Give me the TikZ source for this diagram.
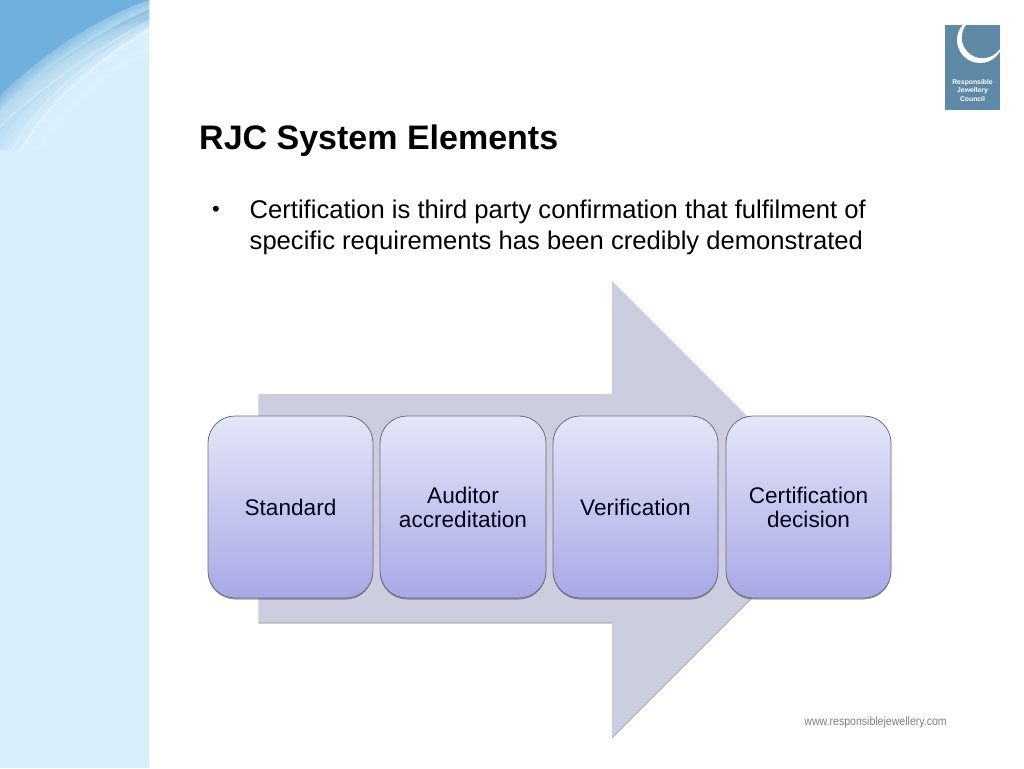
\documentclass[tikz,border=0pt]{standalone}
\usepackage{fontspec}
\setmainfont{Liberation Sans}
\usetikzlibrary{shadows,calc}
\definecolor{panel}{HTML}{D8F0FD}
\definecolor{skyblue}{HTML}{6FB0DC}
\definecolor{arrowfill}{HTML}{CDCDE0}
\definecolor{boxtop}{HTML}{E4E6F8}
\definecolor{boxbot}{HTML}{A8A8E6}
\definecolor{boxline}{HTML}{6E6E80}
\definecolor{logoblue}{HTML}{5F8AA6}
\tikzset{
  stagebox/.style={draw=boxline,line width=.8pt,rounded corners=27pt,top color=boxtop,bottom color=boxbot,
    minimum height=182pt,align=center,inner sep=0pt,text=black!90!blue,
    font=\fontsize{22.6}{24}\selectfont,
    drop shadow={shadow xshift=0pt,shadow yshift=-1.5pt,opacity=.35,fill=black}},
  titletext/.style={anchor=west,inner sep=0pt,font=\fontsize{34}{38}\selectfont\bfseries},
  bodytext/.style={anchor=north west,inner sep=0pt,align=left,font=\fontsize{25.6}{31}\selectfont},
  logotext/.style={inner sep=0pt,text=white,align=center,font=\fontsize{6.8}{8.6}\selectfont\bfseries},
  band/.style={draw=white,line cap=round}
}
\begin{document}
\begin{tikzpicture}[x=1pt,y=-1pt]
\useasboundingbox (0,0) rectangle (1024,768);
\fill[white] (0,0) rectangle (1024,768);
% left panel
\fill[panel] (0,0) rectangle (149,768);
% banner
\begin{scope}
\clip (0,0) rectangle (149,149);
% soft blue patch under the arcs
\foreach \a in {0,1.5,...,25.5}{
  \begin{scope}[rotate around={-\a:(165,15)}]
  \fill[skyblue,opacity=.05] (-30,-30) -- (-30,190) -- (10,165) .. controls (30,125) and (70,75) .. (165,18) -- (165,-30) -- cycle;
  \end{scope}
}
% band zone
\fill[white!30!skyblue!60!panel] (-5,120) .. controls (30,80) and (80,40) .. (155,6) -- (155,-5) -- (-5,-5) -- cycle;
\foreach \t in {0,2,...,22}{
  \fill[skyblue,opacity=.12] (-5,{115-\t}) .. controls ({30-\t*.3},{78-\t}) and ({80-\t*.6},{38-\t}) .. ({155},{5-\t}) -- (155,-30) -- (-5,-30) -- cycle;
}
\fill[skyblue] (-5,100) -- (-5,-5) -- (149,-5) -- (149,0) .. controls (100,16) and (40,55) .. (-5,100) -- cycle;
% pale bands
\draw[band,line width=9pt,opacity=.10] (-5,125) .. controls (30,85) and (90,45) .. (155,14);
\draw[band,line width=2.5pt,opacity=.22] (-5,132) .. controls (30,95) and (90,52) .. (155,18);
\draw[band,line width=2pt,opacity=.35] (22,150) .. controls (45,105) and (90,65) .. (155,26);
\draw[band,line width=1.5pt,opacity=.2] (12,150) .. controls (35,105) and (80,65) .. (155,20);
\draw[band,line width=6pt,opacity=.12] (35,155) .. controls (60,110) and (100,75) .. (155,45);
\end{scope}
% logo
\node[fill=logoblue,minimum width=55pt,minimum height=85pt,inner sep=0pt] (logo) at (972.5,67.5) {};
\begin{scope}
\clip (945,25) -- (970,25) -- (985,45) -- (1000,50) -- (1000,110) -- (945,110) -- cycle;
\fill[white,even odd rule] (980,40) circle[radius=23] (982.5,37.5) circle[radius=20.8];
\end{scope}
\node[logotext] (logotxt) at (972.5,90.5) {Responsible\\Jewellery\\Council};
% title and body
\node[titletext] (title) at (199,141) {RJC System Elements};
\node[anchor=center,inner sep=0pt,font=\fontsize{22}{26}\selectfont] (bullet) at (216,211) {•};
\node[bodytext] (body) at (249.5,200) {Certification is third party confirmation that fulfilment of\\specific requirements has been credibly demonstrated};
% arrow
\fill[arrowfill,drop shadow={shadow xshift=0pt,shadow yshift=-1.5pt,opacity=.3,fill=black}]
  (258.5,394) -- (612,394) -- (612,281) -- (840,509) -- (612,737) -- (612,622) -- (258.5,622) -- cycle;
% boxes
\node[stagebox,minimum width=165pt] (b1) at (290.5,507) {Standard};
\node[stagebox,minimum width=166pt] (b2) at (463,507) {Auditor\\accreditation};
\node[stagebox,minimum width=165pt] (b3) at (635.5,507) {Verification};
\node[stagebox,minimum width=165pt] (b4) at (808.5,507) {Certification\\decision};
% footer
\node[anchor=east,inner sep=0pt,text=black!50,font=\fontsize{12}{14}\selectfont] (url) at (947,722) {\scalebox{.88}[1]{www.responsiblejewellery.com}};
\end{tikzpicture}
\end{document}
